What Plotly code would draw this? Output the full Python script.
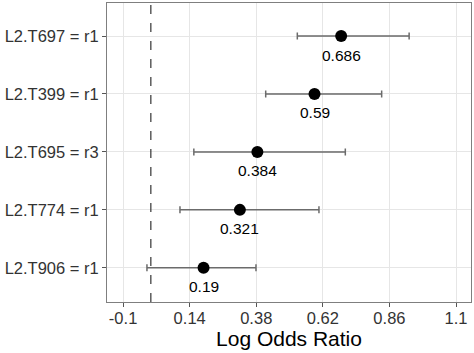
import plotly.graph_objects as go

labels = ["L2.T906 = r1", "L2.T774 = r1", "L2.T695 = r3", "L2.T399 = r1", "L2.T697 = r1"]
estimates = [0.19, 0.321, 0.384, 0.59, 0.686]
lower = [-0.014, 0.105, 0.155, 0.414, 0.528]
upper = [0.379, 0.606, 0.701, 0.832, 0.931]
tick_vals = [-0.1, 0.14, 0.38, 0.62, 0.86, 1.1]
tick_text = ["-0.1", "0.14", "0.38", "0.62", "0.86", "1.1"]

ypos = list(range(1, len(labels) + 1))
font = "Liberation Sans, Arial, Helvetica, sans-serif"

fig = go.Figure()
fig.add_trace(go.Scatter(
    x=estimates, y=ypos, mode="markers",
    marker=dict(size=12, color="black"),
    error_x=dict(type="data", symmetric=False,
                 array=[u - e for u, e in zip(upper, estimates)],
                 arrayminus=[e - l for e, l in zip(estimates, lower)],
                 color="#6b6b6b", thickness=1.5, width=3.5),
    showlegend=False, hoverinfo="skip",
))

for x, y in zip(estimates, ypos):
    fig.add_annotation(x=x, y=y, text=str(x), showarrow=False, yshift=-19,
                       font=dict(family=font, size=15.5, color="black"))

fig.add_shape(type="line", x0=0, x1=0, y0=0, y1=1, yref="paper", xref="x",
              line=dict(color="#333333", width=1.2, dash="dash"))

fig.update_layout(
    width=474, height=353,
    margin=dict(l=107, r=3, t=3, b=51),
    plot_bgcolor="white", paper_bgcolor="white",
    font=dict(family=font, color="black"),
    xaxis=dict(range=[-0.158, 1.154], tickvals=tick_vals, ticktext=tick_text,
               showgrid=True, gridcolor="#e6e6e6", gridwidth=1, zeroline=False,
               showline=True, linecolor="#7f7f7f", linewidth=1, mirror=True,
               ticks="outside", ticklen=4, tickcolor="#555555",
               ticklabelstandoff=-3,
               tickfont=dict(size=16.5, color="#333333"),
               title=dict(text="Log Odds Ratio", font=dict(size=21, color="black"), standoff=2)),
    yaxis=dict(range=[0.41, 5.57], tickvals=ypos, ticktext=labels,
               showgrid=True, gridcolor="#e6e6e6", gridwidth=1, zeroline=False,
               showline=True, linecolor="#7f7f7f", linewidth=1, mirror=True,
               ticks="outside", ticklen=4, tickcolor="#555555",
               tickfont=dict(size=16.5, color="#333333")),
)

fig.write_html("out.html")
